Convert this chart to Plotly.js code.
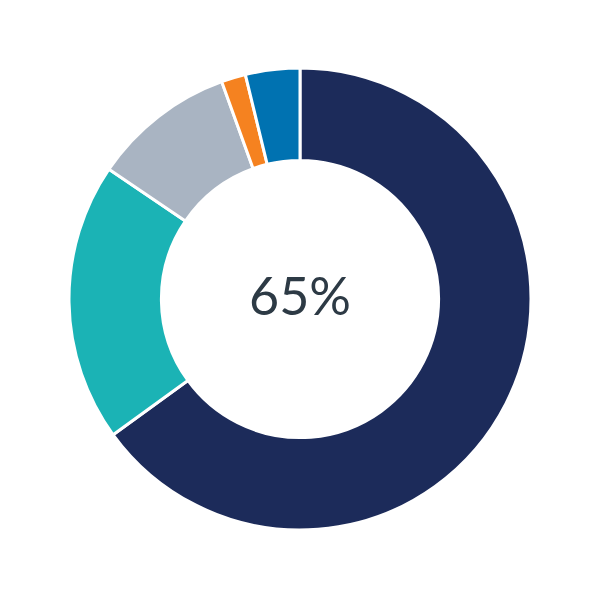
<!DOCTYPE html>
<html>
<head>
<meta charset="utf-8">
<script src="https://cdn.plot.ly/plotly-3.0.1.min.js"></script>
<style>html,body{margin:0;padding:0;background:#fff;}#chart{width:600px;height:599px;}</style>
</head>
<body>
<div id="chart"></div>
<script>
var labels = ["A", "B", "C", "D", "E"];
var values = [65, 19.5, 10, 1.7, 3.8];
var colors = ["#1c2b5a", "#1bb3b5", "#a9b4c2", "#f58220", "#0072b1"];
var centerText = "65%";

var trace = {
  type: "pie",
  labels: labels,
  values: values,
  hole: 0.6,
  sort: false,
  direction: "clockwise",
  rotation: 0,
  textinfo: "none",
  hoverinfo: "label+percent",
  marker: {colors: colors, line: {color: "#ffffff", width: 3}},
  domain: {x: [0.115, 0.885], y: [0.1152, 0.8865]}
};

var layout = {
  width: 600, height: 599,
  margin: {l: 0, r: 0, t: 0, b: 0},
  showlegend: false,
  paper_bgcolor: "#ffffff",
  annotations: [{
    text: centerText, x: 0.5, y: 0.508, xref: "paper", yref: "paper",
    showarrow: false, font: {family: "Lato", size: 52, color: "#2d3a45"}
  }]
};

Plotly.newPlot("chart", [trace], layout, {displayModeBar: false, staticPlot: true});
</script>
</body>
</html>
